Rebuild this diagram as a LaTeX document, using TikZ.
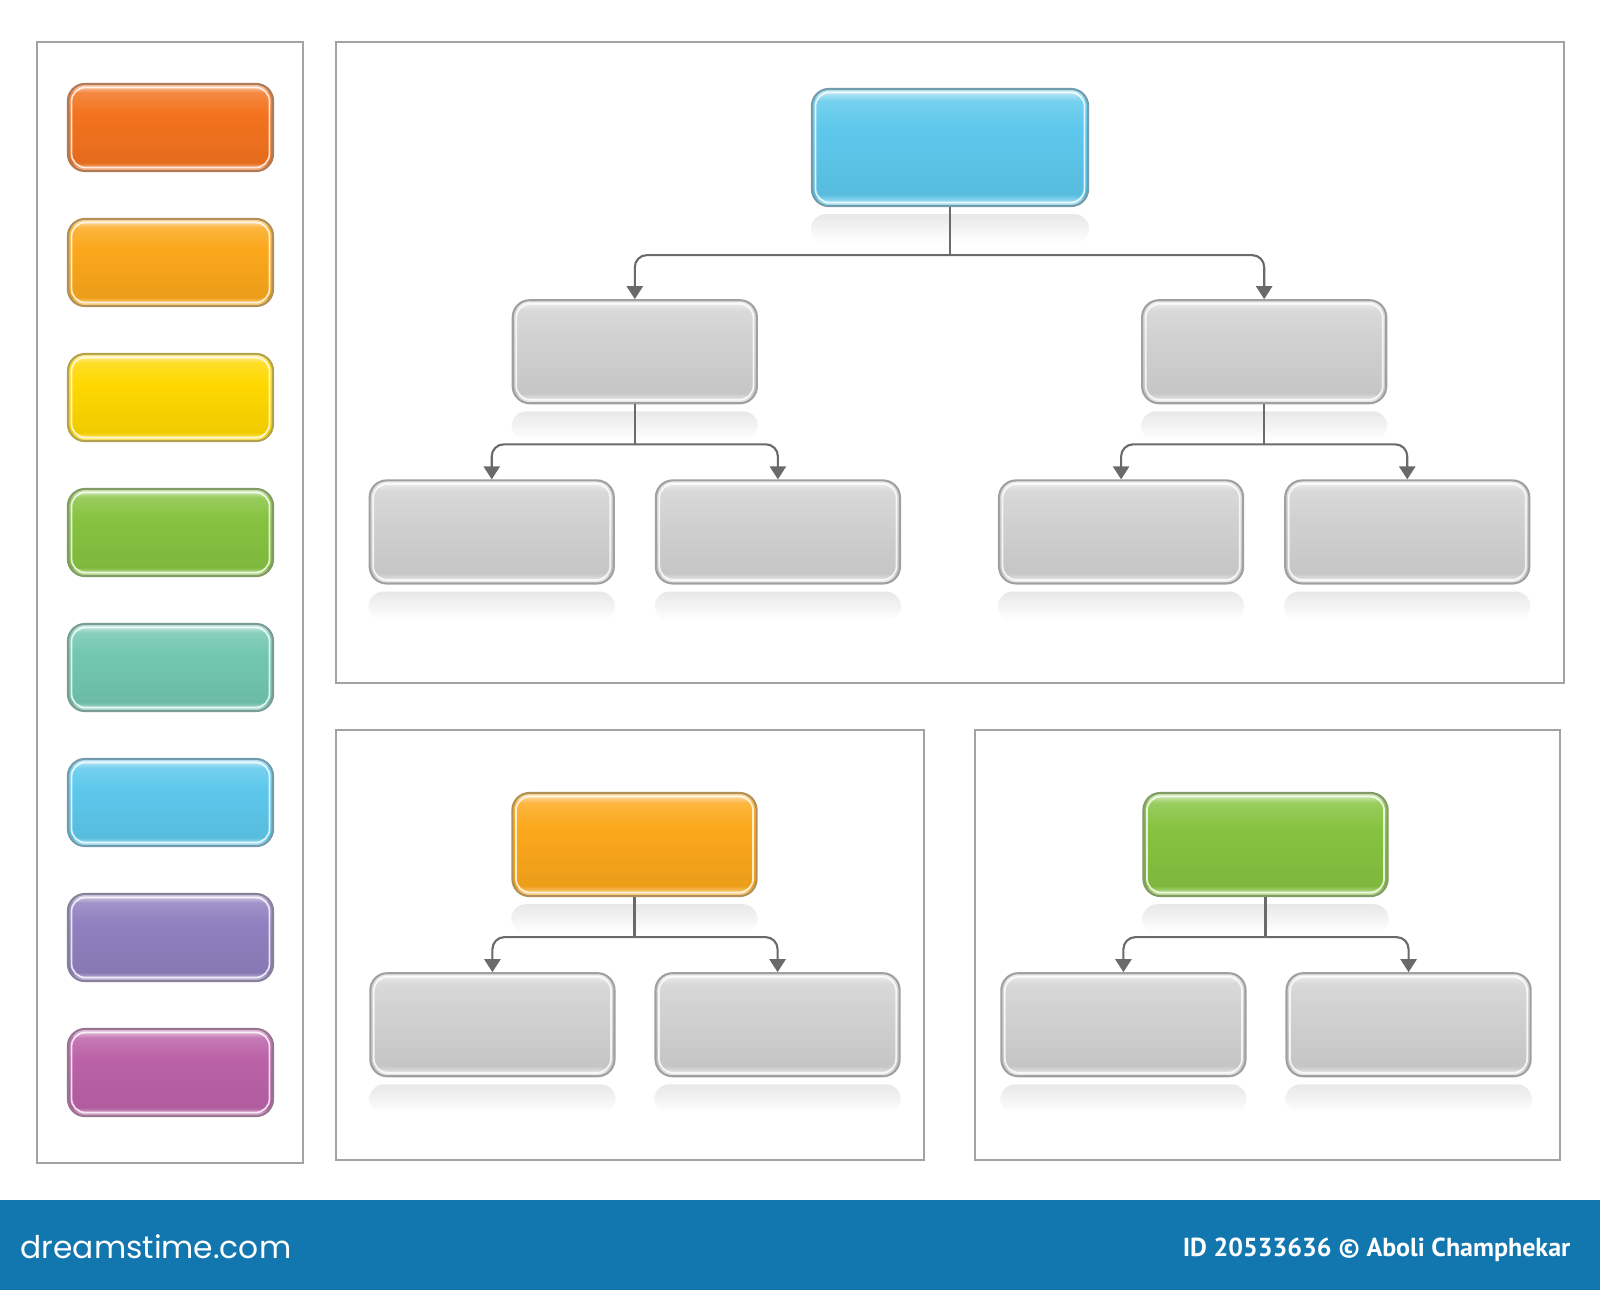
\documentclass[tikz,border=0pt]{standalone}
\usepackage{fontspec}
\usepackage{tikz}
\usetikzlibrary{positioning,arrows.meta,shadings}
\newfontfamily\logofont{Poppins}
\newfontfamily\creditfont{PT Sans}

\definecolor{swOrange}{HTML}{F3731F}
\definecolor{swAmber}{HTML}{FBA81B}
\definecolor{swYellow}{HTML}{FFD800}
\definecolor{swGreen}{HTML}{86C340}
\definecolor{swTeal}{HTML}{72C7B0}
\definecolor{swBlue}{HTML}{5DC8EC}
\definecolor{swPurple}{HTML}{9080BF}
\definecolor{swMagenta}{HTML}{BB62A8}
\definecolor{boxGray}{HTML}{D2D2D2}
\definecolor{lineGray}{HTML}{6A6A6A}
\definecolor{panelGray}{HTML}{A3A3A3}
\definecolor{bannerBlue}{HTML}{1276AF}
\colorlet{glossc}{boxGray}

\pgfdeclareverticalshading[glossc]{gloss}{100bp}{%
	color(0bp)=(glossc!40!white);
	color(25bp)=(glossc!40!white);
	color(27bp)=(glossc!65!white);
	color(30bp)=(glossc!94!black);
	color(58bp)=(glossc);
	color(70bp)=(glossc!85!white);
	color(73bp)=(glossc!50!white);
	color(75bp)=(glossc!35!white);
	color(100bp)=(glossc!35!white)}

\tikzset{
	glossbox/.style = {
		rectangle,
		rounded corners = 0.17cm,
		draw = #1!40!gray,
		line width = 0.6pt,
		/utils/exec = {\colorlet{glossc}{#1}},
		shade,
		shading = gloss,
		path picture = {
			\draw[white, opacity = 0.8, line width = 0.5pt, rounded corners = 0.14cm]
				([shift={(0.035cm,-0.035cm)}]path picture bounding box.north west)
				rectangle ([shift={(-0.035cm,0.035cm)}]path picture bounding box.south east);
		}
	},
	chartbox/.style = {glossbox = #1, minimum width = 2.44cm, minimum height = 1.03cm},
	chartbox/.default = boxGray,
	swatch/.style = {glossbox = #1, minimum width = 2.05cm, minimum height = 0.87cm},
	panel/.style = {draw = panelGray, line width = 0.5pt},
	reflect/.style = {top color = black!9, bottom color = white, draw = none},
	conn/.style = {draw = lineGray, line width = 0.6pt, rounded corners = 0.12cm},
	tip/.style = {-{Triangle[length = 3.7pt, width = 4.6pt]}}
}

\begin{document}
\begin{tikzpicture}[x=0.01cm, y=-0.01cm]
	\useasboundingbox (0,0) rectangle (1600,1290);
	\fill[white] (0,0) rectangle (1600,1290);
	
	% frames
	\draw[panel] (37,42) rectangle (303,1163);
	\draw[panel] (336,42) rectangle (1564,683);
	\draw[panel] (336,730) rectangle (924,1160);
	\draw[panel] (975,730) rectangle (1560,1160);
	
	% colour swatches
	\foreach \c [count=\i from 0] in {swOrange,swAmber,swYellow,swGreen,swTeal,swBlue,swPurple,swMagenta}
		\node[swatch = \c] (sw\i) at (170.5,{127.5+135*\i}) {};
	
	% big tree
	\node[chartbox = swBlue, minimum width = 2.76cm, minimum height = 1.17cm] (topRoot) at (950,147.5) {};
	\node[chartbox, below = 0.92cm of topRoot, xshift = -3.15cm] (topLeft) {};
	\node[chartbox, below = 0.92cm of topRoot, xshift = 3.14cm] (topRight) {};
	\node[chartbox, below = 0.75cm of topLeft, xshift = -1.43cm] (leafLL) {};
	\node[chartbox, below = 0.75cm of topLeft, xshift = 1.43cm] (leafLR) {};
	\node[chartbox, below = 0.75cm of topRight, xshift = -1.43cm] (leafRL) {};
	\node[chartbox, below = 0.75cm of topRight, xshift = 1.43cm] (leafRR) {};
	
	% small trees
	\node[chartbox = swAmber] (ambRoot) at (634.5,844.5) {};
	\node[chartbox, below = 0.75cm of ambRoot, xshift = -1.42cm] (ambLeft) {};
	\node[chartbox, below = 0.75cm of ambRoot, xshift = 1.43cm] (ambRight) {};
	\node[chartbox = swGreen] (grnRoot) at (1265.5,844.5) {};
	\node[chartbox, below = 0.75cm of grnRoot, xshift = -1.42cm] (grnLeft) {};
	\node[chartbox, below = 0.75cm of grnRoot, xshift = 1.43cm] (grnRight) {};
	
	% reflections
	\foreach \n in {topRoot,topLeft,topRight,leafLL,leafLR,leafRL,leafRR,ambRoot,ambLeft,ambRight,grnRoot,grnLeft,grnRight}
		\shade[reflect, rounded corners = 0.15cm] ([yshift=-0.07cm]\n.south west) rectangle ([yshift=-0.36cm]\n.south east);
	
	\coordinate (hubTop) at ([yshift=-0.48cm]topRoot.south);
	\coordinate (hubLeft) at ([yshift=-0.40cm]topLeft.south);
	\coordinate (hubRight) at ([yshift=-0.40cm]topRight.south);
	\coordinate (hubAmb) at ([yshift=-0.40cm]ambRoot.south);
	\coordinate (hubGrn) at ([yshift=-0.40cm]grnRoot.south);
	
	\draw[conn] (topRoot.south) -- (hubTop);
	\draw[conn, tip] (hubTop) -| (topLeft.north);
	\draw[conn, tip] (hubTop) -| (topRight.north);
	\draw[conn] (topLeft.south) -- (hubLeft);
	\draw[conn, tip] (hubLeft) -| (leafLL.north);
	\draw[conn, tip] (hubLeft) -| (leafLR.north);
	\draw[conn] (topRight.south) -- (hubRight);
	\draw[conn, tip] (hubRight) -| (leafRL.north);
	\draw[conn, tip] (hubRight) -| (leafRR.north);
	\draw[conn] (ambRoot.south) -- (hubAmb);
	\draw[conn, tip] (hubAmb) -| (ambLeft.north);
	\draw[conn, tip] (hubAmb) -| (ambRight.north);
	\draw[conn] (grnRoot.south) -- (hubGrn);
	\draw[conn, tip] (hubGrn) -| (grnLeft.north);
	\draw[conn, tip] (hubGrn) -| (grnRight.north);
	
	% banner
	\fill[bannerBlue] (0,1200) rectangle (1600,1290);
	\node[anchor = base west, inner sep = 0, text = white] (logo) at (20,1258)
		{\fontsize{8.9}{10}\logofont dreamstime.com};
	\node[anchor = base east, inner sep = 0, text = white] (credit) at (1571,1256)
		{\fontsize{7.4}{8}\creditfont\bfseries ID 20533636 © Aboli Champhekar};
\end{tikzpicture}
\end{document}
